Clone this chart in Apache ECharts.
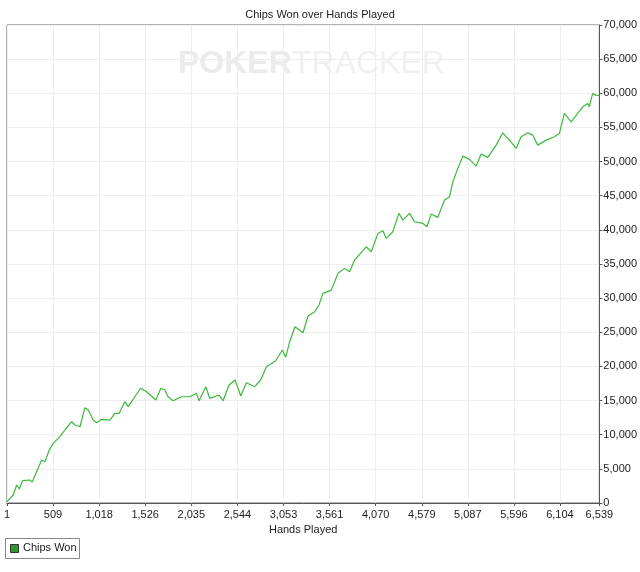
<!DOCTYPE html>
<html><head><meta charset="utf-8">
<script src="https://cdn.jsdelivr.net/npm/echarts@6/dist/echarts.min.js"></script>
<style>html,body{margin:0;padding:0;background:#fff}#c{width:640px;height:572px}</style>
</head><body><div id="c"></div>
<script>
// hands played / chips won
var hands = [1,70,108,137,174,254,280,328,383,420,467,511,585,640,714,751,806,861,898,953,990,1045,1137,1192,1239,1302,1339,1431,1475,1541,1644,1699,1743,1779,1834,1927,2019,2092,2121,2195,2239,2342,2386,2452,2518,2581,2643,2735,2801,2864,2967,3041,3077,3121,3180,3268,3323,3397,3444,3488,3581,3654,3728,3782,3838,3966,4022,4095,4150,4187,4260,4326,4370,4444,4499,4591,4635,4683,4756,4830,4885,4922,4977,5032,5106,5179,5234,5308,5400,5473,5547,5620,5676,5749,5804,5859,5951,6043,6098,6153,6227,6300,6355,6410,6428,6465,6502,6539];
var chips = [200,1170,2640,2050,3270,3370,3070,4590,6300,6050,7760,8740,9710,10690,11900,11420,11170,13950,13620,12150,11760,12250,12150,13130,13130,14840,14110,15920,16800,16300,15080,16800,16540,15560,14980,15560,15560,16060,14980,17030,15330,15810,14980,17280,18010,15670,17610,17030,18010,19950,20830,22400,21330,23620,25810,24930,27380,28010,28990,30700,31180,33630,34360,33870,35580,37520,36790,39480,39860,38750,39720,42410,41430,42410,41190,40950,40450,42310,41830,44360,44840,47040,49000,50800,50320,49340,51090,50610,52410,54210,53140,51930,53630,54210,53870,52410,53140,53630,54120,57050,55820,57050,58020,58510,58020,59980,59730,59700];
var xTicks = [1,509,1018,1526,2035,2544,3053,3561,4070,4579,5087,5596,6104,6539];

var myChart = echarts.init(document.getElementById('c'));
var txt = {fontFamily:'Liberation Sans', fontSize:11, color:'#222'};
var option = {
    backgroundColor:'#fff',
    animation:false,
    title:{text:'Chips Won over Hands Played', left:'center', top:4, textStyle:{fontFamily:'Liberation Sans',fontSize:11,fontWeight:'normal',color:'#222'}},
    graphic:[
        {type:'text', left:178, top:48, z:0, style:{text:'POKER', font:'bold 32px Liberation Sans', fill:'#ebebeb'}},
        {type:'text', left:292, top:48, z:0, style:{text:'TRACKER', font:'32px Liberation Sans', fill:'#f0f0f0'}},
        {type:'rect', left:5, top:538, shape:{width:74,height:20}, style:{fill:'#fff',stroke:'#888',lineWidth:1}},
        {type:'rect', left:10, top:544, shape:{width:8,height:8}, style:{fill:'#2e9a2e',stroke:'#333',lineWidth:1}},
        {type:'text', left:23, top:542, style:{text:'Chips Won', font:'11px Liberation Sans', fill:'#222'}}
    ],
    grid:{left:7, right:40, top:25, bottom:69, show:true, borderColor:'#666', borderWidth:1},
    xAxis:{type:'value', min:1, max:6539, name:'Hands Played', nameLocation:'middle', nameGap:19, nameTextStyle:txt,
        axisLine:{show:true,lineStyle:{color:'#555'}},
        axisTick:{show:true, customValues:xTicks, length:3, lineStyle:{color:'#555'}},
        axisLabel:Object.assign({customValues:xTicks, formatter:function(v){return v.toLocaleString('en-US');}, margin:6}, txt),
        splitLine:{show:true, lineStyle:{color:'#eeeeee'}}},
    yAxis:{type:'value', position:'right', min:0, max:70000, interval:5000,
        axisLine:{show:true,lineStyle:{color:'#555'}},
        axisTick:{show:true,length:3,lineStyle:{color:'#555'}},
        axisLabel:Object.assign({formatter:function(v){return v.toLocaleString('en-US');}, margin:4}, txt),
        splitLine:{show:true, lineStyle:{color:'#eeeeee'}}},
    series:[{type:'line', name:'Chips Won', showSymbol:false, symbol:'none',
        lineStyle:{color:'#3cb83c', width:1.2},
        data:hands.map(function(h,i){return [h, chips[i]];})}]
};
myChart.setOption(option);
</script></body></html>
